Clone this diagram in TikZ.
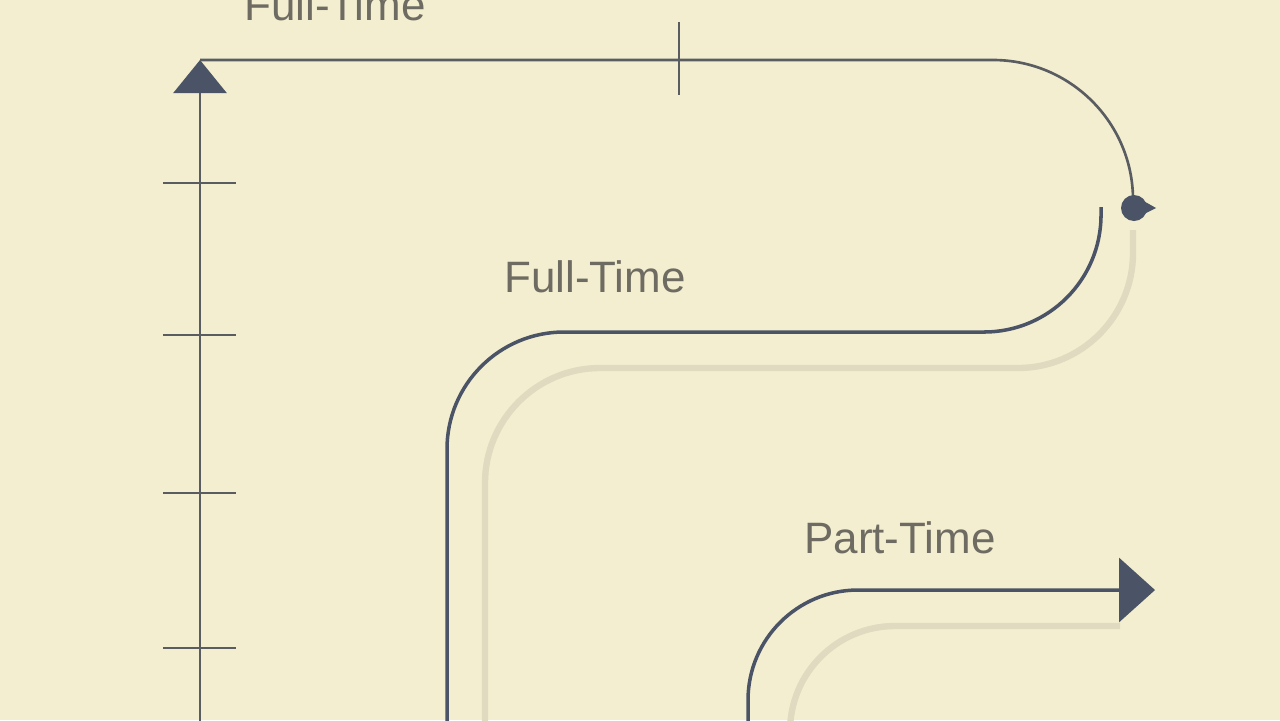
\documentclass[tikz,border=0pt]{standalone}
\usepackage{fontspec}
\setmainfont{Liberation Sans}
\usepackage{xcolor}
\usepackage{tikz}
\usetikzlibrary{arrows.meta}

\definecolor{paper}{HTML}{F3EED0}
\definecolor{ink}{HTML}{4B5366}
\definecolor{axisink}{HTML}{595C60}
\definecolor{paleline}{HTML}{DFDAC0}
\definecolor{labelink}{HTML}{6E6C62}

\begin{document}
\begin{tikzpicture}[x=0.01cm,y=0.01cm,
		axisline/.style={axisink,line width=0.75pt},
		track/.style={ink,line width=1pt},
		trackshadow/.style={paleline,line width=1.8pt},
		lbl/.style={labelink,font=\fontsize{12.5}{15}\selectfont,anchor=base,inner sep=0pt}]
		\fill[paper] (0,0) rectangle (1280,720);
		\useasboundingbox (0,0) rectangle (1280,720);
		\coordinate (axisfoot) at (200,-10);
		\coordinate (axistop) at (200,660);
		\coordinate (topcorner) at (1133,660);
		\coordinate (topend) at (1133,520);
		\coordinate (ftstart) at (1101,513);
		\coordinate (ftend) at (447,-10);
		\coordinate (ptstart) at (748,-10);
		\coordinate (ptend) at (1155,130);
		\draw[trackshadow,rounded corners=1.15cm] (1133,490) -- (1133,352) -- (485,352) -- (485,-10);
		\draw[trackshadow,rounded corners=1.05cm] (790,-10) -- (790,94) -- (1120,94);
		\draw[axisline,-{Triangle[width=0.53cm,length=0.33cm,color=ink]}] (axisfoot) -- (axistop);
		\foreach \ty in {537,385,227,72}
			\draw[axisline] (163,\ty) -- (236,\ty);
		\draw[axisline,rounded corners=1.4cm] (axistop) -- (topcorner) -- (topend);
		\draw[axisline] (679,698) -- (679,625);
		\fill[ink] (1134,512) circle (13);
		\fill[ink] (1140,521) -- (1156,512) -- (1140,504) -- cycle;
		\draw[track,rounded corners=1.17cm] (ftstart) -- (1101,388) -- (447,388) -- (ftend);
		\draw[track,rounded corners=1.1cm,-{Triangle[width=0.64cm,length=0.36cm]}] (ptstart) -- (748,130) -- (ptend);
		\node[lbl] (fulltop) at (335,700) {Full-Time};
		\node[lbl] (fullmid) at (595,428) {Full-Time};
		\node[lbl] (parttime) at (900,167) {Part-Time};
\end{tikzpicture}
\end{document}
